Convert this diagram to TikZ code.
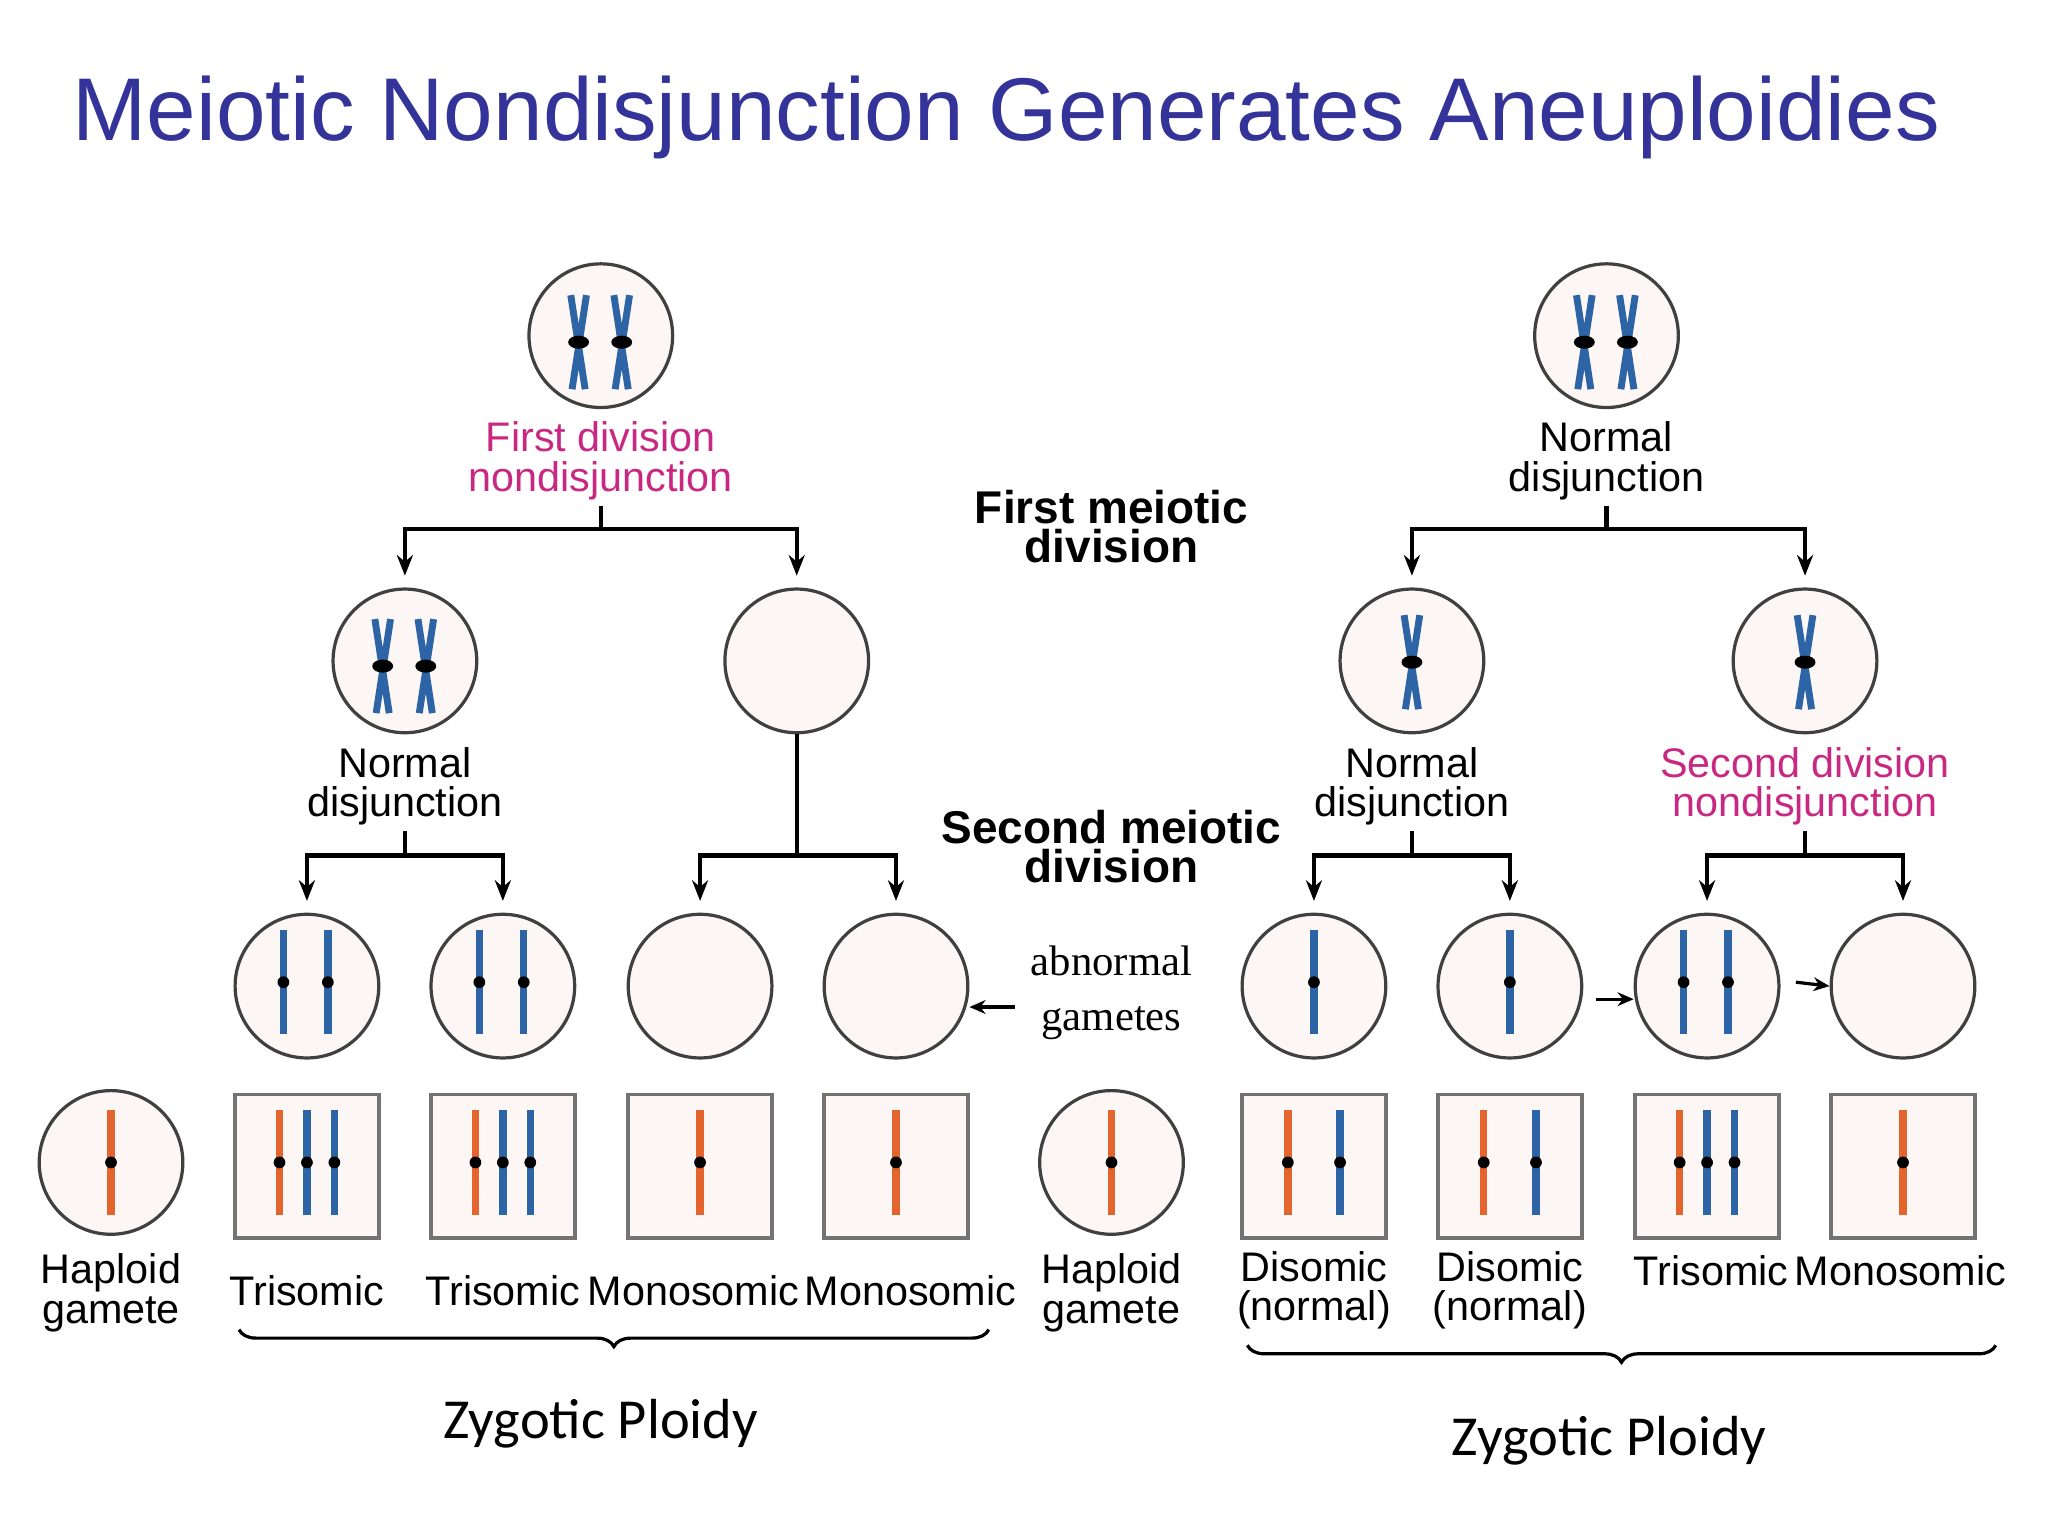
\documentclass[tikz,border=0pt]{standalone}
\usepackage{fontspec}
\setmainfont{Liberation Sans}
\newfontfamily\zyg{Carlito}
\newfontfamily\ser{Liberation Serif}
\usetikzlibrary{arrows.meta,decorations.pathreplacing}
\definecolor{ttl}{RGB}{51,51,153}
\definecolor{cb}{RGB}{45,100,165}
\definecolor{co}{RGB}{228,100,45}
\definecolor{mag}{RGB}{200,40,130}
\definecolor{cellf}{RGB}{252,247,244}
\begin{document}
\begin{tikzpicture}[x=0.01cm,y=-0.01cm,
  cell/.style={circle,draw=black!75,line width=0.7pt,fill=cellf,minimum size=110*0.01cm,inner sep=0pt},
  box/.style={rectangle,draw=black!55,line width=0.8pt,fill=cellf,minimum size=110*0.01cm,inner sep=0pt},
  lab/.style={align=center,font=\fontsize{9}{8.6}\selectfont,inner sep=1pt},
  mlab/.style={lab,text=mag},
  hd/.style={align=center,font=\fontsize{10}{8.6}\selectfont\bfseries,inner sep=1pt},
  ln/.style={line width=0.9pt},
  arr/.style={ln,-{Stealth[length=4.5pt,width=3.5pt]},shorten >=9*0.01cm},
  sarr/.style={line width=0.7pt,-{Stealth[length=3.5pt,width=3pt]}},
  pics/xc/.style={code={
    \draw[cb,line width=1.5pt] (-6,-36)--(5,36) (6,-36)--(-5,36);
    \fill (0,0) ellipse (8*0.01cm and 5*0.01cm);}},
  pics/sc/.style={code={
    \draw[#1,line width=1.6pt] (0,-40)--(0,40);
    \fill (0,0) circle (4.5*0.01cm);}},
  brc/.style={decorate,decoration={brace,amplitude=13*0.01cm},line width=0.7pt}
]
\useasboundingbox (0,0) rectangle (1568,1176);
\node[text=ttl,font=\fontsize{19.4}{20}\selectfont,anchor=west,inner sep=0pt] (title) at (55,90) {Meiotic Nondisjunction Generates Aneuploidies};

% ---------- left tree ----------
\node[cell] (L0) at (460,257) {};
\pic at (443,262) {xc}; \pic at (476,262) {xc};
\node[mlab] (L0l) at (460,353) {First division\\nondisjunction};
\coordinate (Lj0) at (460,405);
\draw[ln] (L0l.south)--(Lj0);
\node[cell] (L1a) at (310,506) {};
\pic at (293,510) {xc}; \pic at (326,510) {xc};
\node[cell] (L1b) at (610,506) {};
\draw[arr] (Lj0) -| (L1a.north);
\draw[arr] (Lj0) -| (L1b.north);
\node[lab] (L1al) at (310,602) {Normal\\disjunction};
\coordinate (Lj1) at (310,655);
\coordinate (Lj2) at (610,655);
\draw[ln] (L1al.south)--(Lj1);
\draw[ln] (L1b.south)--(Lj2);
\foreach \i/\x in {1/235,2/385,3/536,4/686}{
  \node[cell] (L2\i) at (\x,755) {};
  \node[box] (LB\i) at (\x,893) {};
}
\draw[arr] (Lj1) -| (L21.north); \draw[arr] (Lj1) -| (L22.north);
\draw[arr] (Lj2) -| (L23.north); \draw[arr] (Lj2) -| (L24.north);
\foreach \x in {235,385}{\pic at (\x-18,752) {sc=cb}; \pic at (\x+16,752) {sc=cb};
  \pic at (\x-21,890) {sc=co}; \pic at (\x,890) {sc=cb}; \pic at (\x+21,890) {sc=cb};}
\foreach \x in {536,686}{\pic at (\x,890) {sc=co};}
\node[cell] (LH) at (85,890) {}; \pic at (85,890) {sc=co};
\node[lab] (LHl) at (85,990) {Haploid\\gamete};
\node[lab] (t1) at (235,988) {Trisomic};
\node[lab] (t2) at (385,988) {Trisomic};
\node[lab] (t3) at (531,988) {Monosomic};
\node[lab] (t4) at (697,988) {Monosomic};
\coordinate (Lbr1) at (183,1018); \coordinate (Lbr2) at (757,1018);
\draw[brc] (Lbr2) -- (Lbr1);
\node[font=\zyg\fontsize{12.3}{14}\selectfont] (LZ) at (460,1090) {Zygotic Ploidy};

% ---------- middle ----------
\node[hd] (m1) at (851,403) {First meiotic\\division};
\node[hd] (m2) at (851,648) {Second meiotic\\division};
\node[align=center,font=\ser\fontsize{9.3}{12}\selectfont] (ab) at (851,760) {abnormal\\gametes};
\node[cell] (MH) at (851,890) {}; \pic at (851,890) {sc=co};
\node[lab] (MHl) at (851,990) {Haploid\\gamete};

% ---------- right tree ----------
\node[cell] (R0) at (1230,257) {};
\pic at (1213,262) {xc}; \pic at (1246,262) {xc};
\node[lab] (R0l) at (1230,353) {Normal\\disjunction};
\coordinate (Rj0) at (1230,405);
\draw[ln] (R0l.south)--(Rj0);
\node[cell] (R1a) at (1081,506) {}; \pic at (1081,507) {xc};
\node[cell] (R1b) at (1382,506) {}; \pic at (1382,507) {xc};
\draw[arr] (Rj0) -| (R1a.north);
\draw[arr] (Rj0) -| (R1b.north);
\node[lab] (R1al) at (1081,602) {Normal\\disjunction};
\node[mlab] (R1bl) at (1382,602) {Second division\\nondisjunction};
\coordinate (Rj1) at (1081,655); \coordinate (Rj2) at (1382,655);
\draw[ln] (R1al.south)--(Rj1); \draw[ln] (R1bl.south)--(Rj2);
\foreach \i/\x in {1/1006,2/1156,3/1307,4/1457}{
  \node[cell] (R2\i) at (\x,755) {};
  \node[box] (RB\i) at (\x,893) {};
}
\draw[arr] (Rj1) -| (R21.north); \draw[arr] (Rj1) -| (R22.north);
\draw[arr] (Rj2) -| (R23.north); \draw[arr] (Rj2) -| (R24.north);
\pic at (1006,752) {sc=cb}; \pic at (1156,752) {sc=cb};
\pic at (1289,752) {sc=cb}; \pic at (1323,752) {sc=cb};
\foreach \x in {1006,1156}{\pic at (\x-20,890) {sc=co}; \pic at (\x+20,890) {sc=cb};}
\pic at (1286,890) {sc=co}; \pic at (1307,890) {sc=cb}; \pic at (1328,890) {sc=cb};
\pic at (1457,890) {sc=co};
\node[lab] (r1) at (1006,988) {Disomic\\(normal)};
\node[lab] (r2) at (1156,988) {Disomic\\(normal)};
\node[lab] (r3) at (1310,973) {Trisomic};
\node[lab] (r4) at (1455,973) {Monosomic};
\coordinate (Rbr1) at (955,1030); \coordinate (Rbr2) at (1528,1030);
\draw[brc] (Rbr2) -- (Rbr1);
\node[font=\zyg\fontsize{12.3}{14}\selectfont] (RZ) at (1232,1103) {Zygotic Ploidy};

% small arrows
\coordinate (a1s) at (777,771);
\draw[sarr] (a1s) -- (L24.east |- a1s);
\coordinate (a2s) at (1222,765);
\draw[sarr] (a2s) -- (R23.west |- a2s);
\coordinate (a3s) at (1375,752);
\draw[sarr] (a3s) -- (R24.west);
\end{tikzpicture}
\end{document}
